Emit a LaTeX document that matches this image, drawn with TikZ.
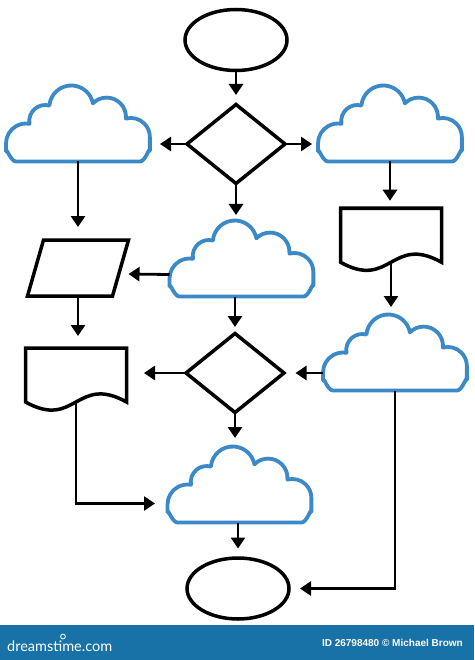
\documentclass[tikz,border=0pt]{standalone}
\usepackage{fontspec}
\usetikzlibrary{shapes.geometric, arrows.meta}
\newfontfamily\logofont{Lato}
\newfontfamily\creditfont{Liberation Sans}
\definecolor{cloudblue}{RGB}{59,137,199}
\definecolor{barblue}{RGB}{24,114,168}
\tikzstyle{term} = [ellipse, draw, line width=3.5pt, outer sep=0, inner sep=0, minimum width=102pt, minimum height=61pt]
\tikzstyle{decision} = [diamond, draw, line width=3.5pt, outer sep=0, inner sep=0, minimum width=98pt, minimum height=79pt]
\tikzstyle{cloudbox} = [rectangle, outer sep=0, inner sep=0, minimum width=144pt, minimum height=76pt]
\tikzstyle{docbox} = [rectangle, outer sep=0, inner sep=0, minimum width=101pt, minimum height=54pt]
\tikzstyle{iobox} = [rectangle, outer sep=0, inner sep=0, minimum width=101pt, minimum height=56pt]
\tikzstyle{outline} = [line width=3.5pt, line join=miter]
\tikzstyle{cloudline} = [cloudblue, line width=3.8pt, line join=round]
\tikzstyle{arrow} = [line width=2.8pt,-{Triangle[length=11pt,width=14pt]}]
\newcommand{\cloudpath}{(-62,0) to[out=180,in=90] (-72,-10) -- (-72,-18)
  arc (180:280:20) arc (170:285:16) arc (185:349:22) arc (225:364.7:19.4)
  arc (255:360:19) -- ++(0,14) to[out=90,in=0] (62,0) -- cycle}

\begin{document}
\begin{tikzpicture}[x=1pt,y=-1pt]
\useasboundingbox (0,0) rectangle (474,660);

\node[term] (start) at (236,40) {};
\node[decision] (dec1) at (236,144) {};
\node[cloudbox,anchor=south] (cL) at (78,161.5) {};
\node[cloudbox,anchor=south] (cR) at (390,161.5) {};
\node[cloudbox,anchor=south] (cM) at (241.5,296.5) {};
\node[iobox] (para) at (78,268) {};
\node[docbox] (docR) at (391,235.25) {};
\node[decision] (dec2) at (235,373) {};
\node[cloudbox,anchor=south] (cR2) at (395,390.5) {};
\node[docbox] (docL) at (76,375) {};
\node[cloudbox,anchor=south] (cB) at (239.5,522.5) {};
\node[term] (stop) at (238,588.5) {};

\foreach \c in {cL,cR,cM,cR2,cB}
	\draw[cloudline,shift={(\c.south)}] \cloudpath;
\foreach \d in {docR,docL}
	\draw[outline] (\d.south west) -- (\d.north west) -- (\d.north east) -- (\d.south east)
		.. controls +(-50,-28) and +(50,28) .. (\d.south west) -- cycle;
\draw[outline] (para.south west) -- ([xshift=16pt]para.north west) -- (para.north east) -- ([xshift=-16pt]para.south east) -- cycle;

\draw[arrow,shorten >=9.5pt] (start) -- (dec1);
\draw[arrow,shorten >=10pt] (dec1.west) -- (dec1.west -| cL.east);
\draw[arrow,shorten >=6pt] (dec1.east) -- (dec1.east -| cR.west);
\draw[arrow,shorten >=13pt] (cL.south) -- (para.north);
\draw[arrow,shorten >=7.5pt] (cR.south) -- (cR.south |- docR.north);
\draw[arrow,shorten >=5.5pt] (dec1.south) -- (dec1.south |- cM.north);
\draw[arrow] ([yshift=-16pt]cM.west) -- ([yshift=-6pt]para.east);
\draw[arrow,shorten >=12pt] (para.south) -- (para.south |- docL.north);
\draw[arrow,shorten >=6.5pt] (cM.south -| dec2.north) -- (dec2.north);
\draw[arrow,shorten >=17.5pt] (dec2.west) -- (dec2.west -| docL.east);
\draw[arrow,shorten >=11.5pt] (dec2.east -| cR2.west) -- (dec2.east);
\draw[arrow,shorten >=7.5pt] (docR.south) -- (docR.south |- cR2.north);
\draw[arrow,shorten >=8.5pt] (dec2.south) -- (dec2.south |- cB.north);
\draw[arrow,shorten >=12.5pt] (docL.south) |- ([yshift=-19pt]cB.west);
\draw[arrow,shorten >=9.5pt] (cB.south -| stop.north) -- (stop.north);
\draw[arrow,shorten >=11pt] (cR2.south) |- (stop.east);

\fill[barblue] (0,625) rectangle (474,660);
\node[anchor=base west,text=white,inner sep=0,font=\logofont\fontsize{14.5}{14.5}\selectfont] (logo) at (7,651.7) {dreamstime.com};
\draw[white,line width=0.8pt] (63,636.5) circle (2.4);
\node[anchor=base east,text=white,inner sep=0,font=\creditfont\bfseries\fontsize{10}{10}\selectfont] (credit) at (463,646.7) {ID 26798480 © Michael Brown};
\end{tikzpicture}
\end{document}
